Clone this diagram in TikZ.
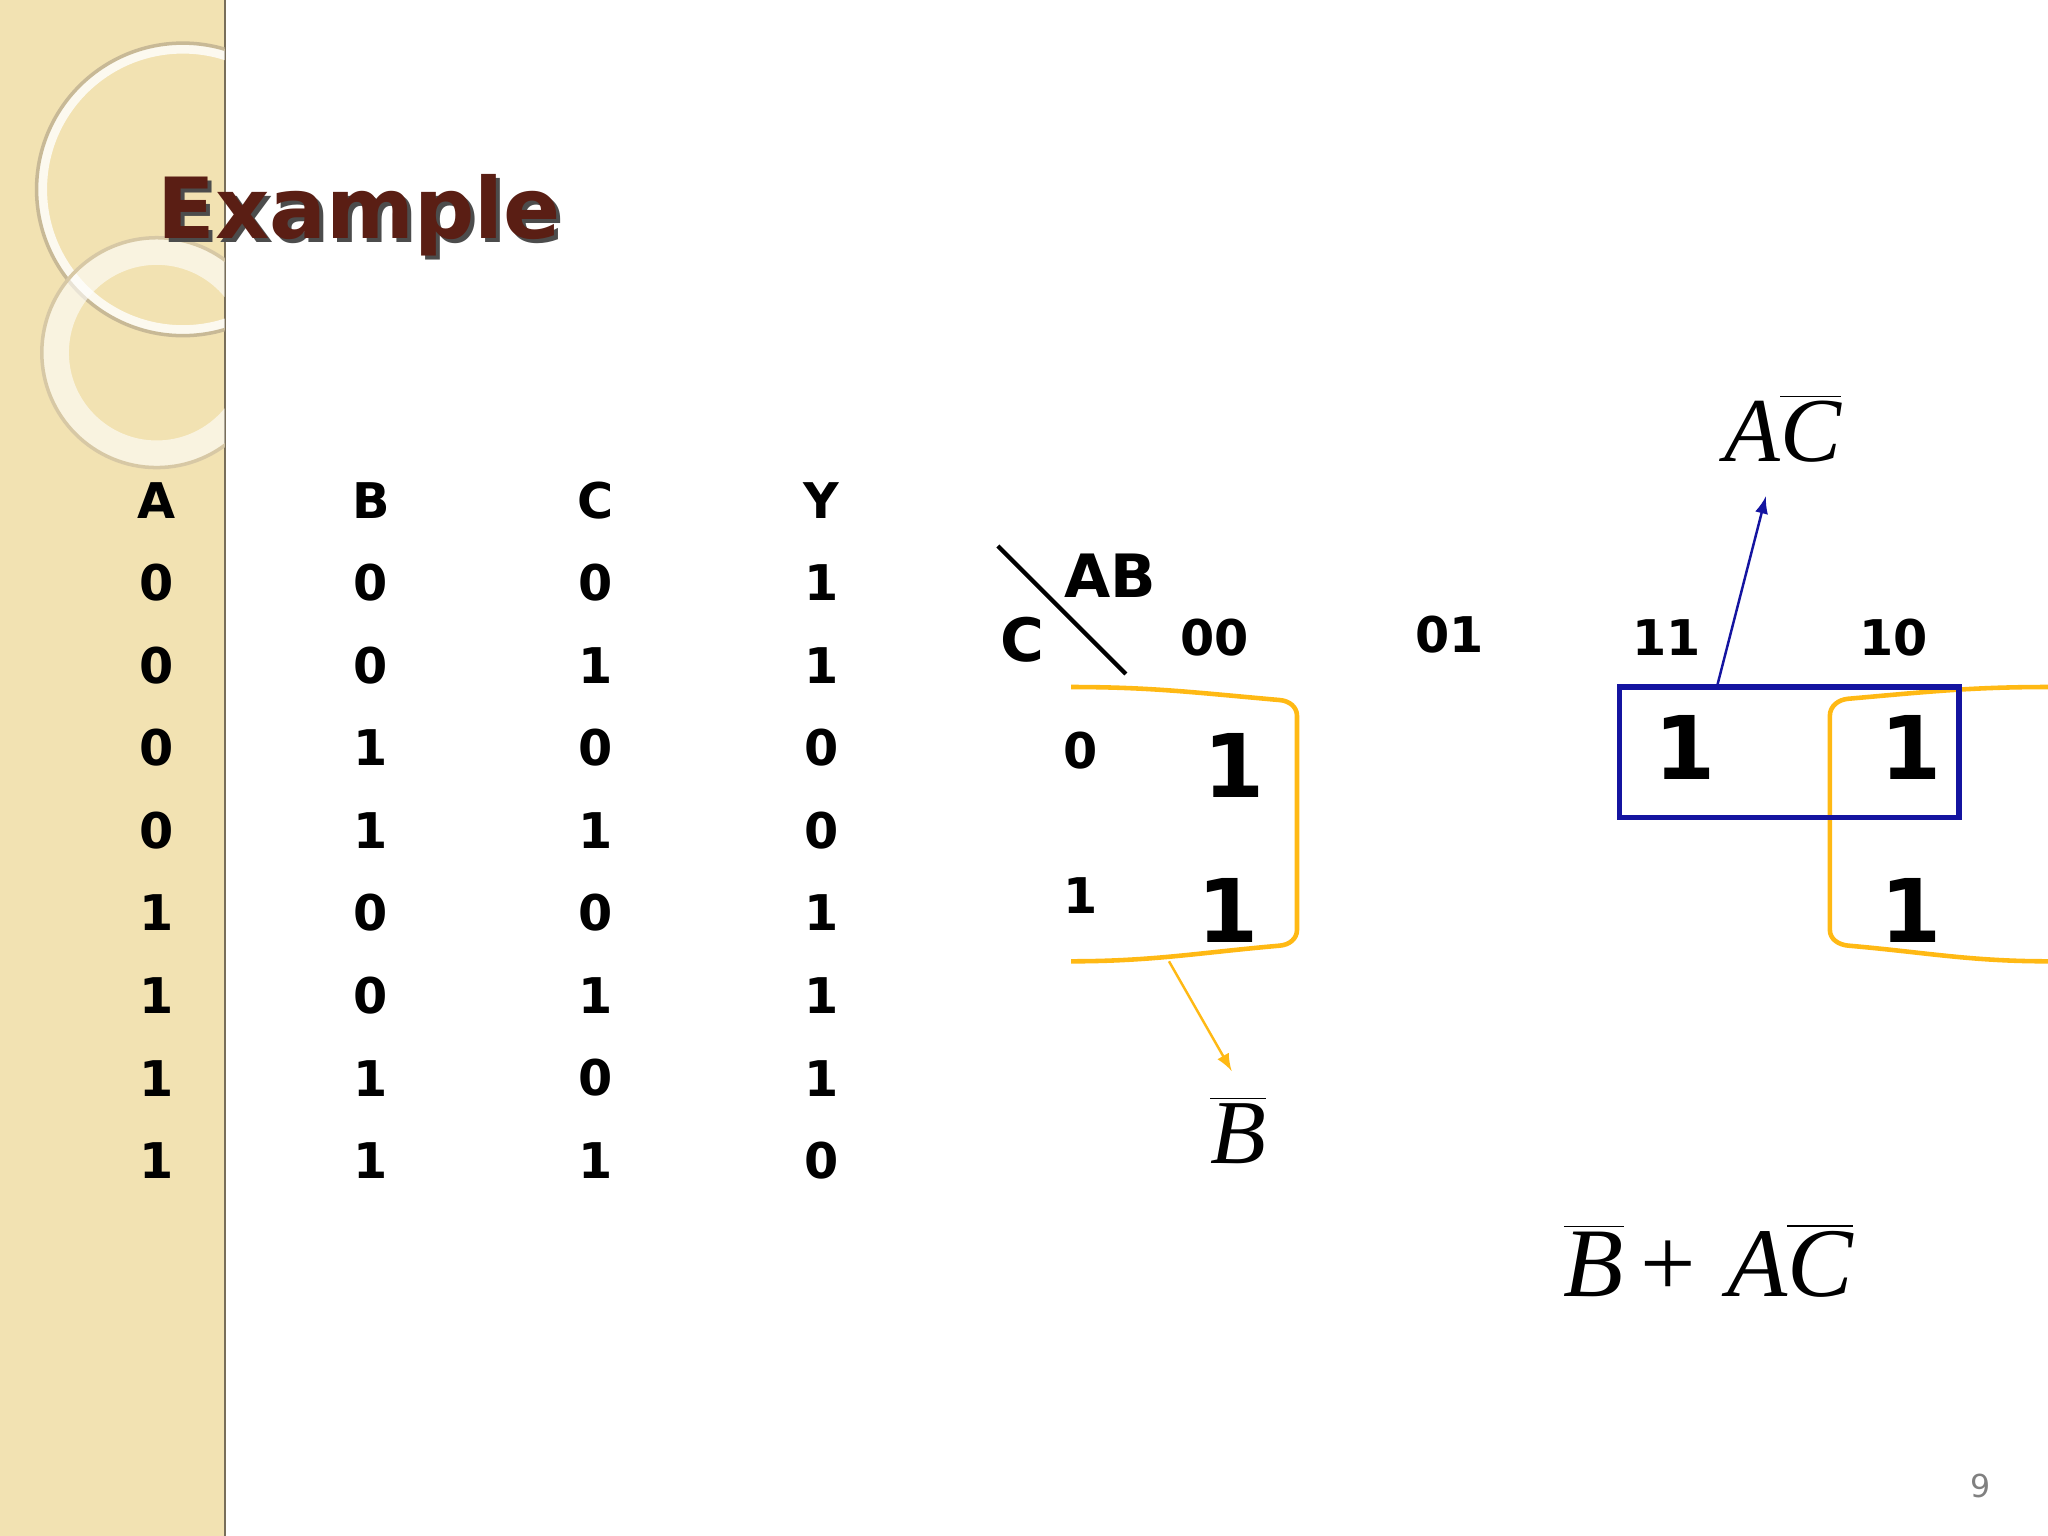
\documentclass[tikz,border=0pt]{standalone}
\usepackage{fontspec}
\setmainfont{DejaVu Sans}
\newfontfamily\tms{Liberation Serif}
\definecolor{beige}{RGB}{242,226,178}
\definecolor{barline}{RGB}{120,110,90}
\definecolor{ring1}{RGB}{200,185,150}
\definecolor{ring2}{RGB}{215,200,165}
\definecolor{brown}{RGB}{90,30,20}
\definecolor{org}{RGB}{255,185,20}
\definecolor{dblue}{RGB}{20,20,160}
\begin{document}
\begin{tikzpicture}[x=0.01306cm,y=-0.01306cm,
  tt/.style={font=\fontsize{14}{16}\selectfont\bfseries},
  big/.style={font=\fontsize{25}{28}\selectfont\bfseries},
  mth/.style={font=\fontsize{26}{30}\selectfont},
  obr/.style={draw=org,line width=1.3pt}]
\useasboundingbox (0,0) rectangle (1568,1176);
\fill[white] (0,0) rectangle (1568,1176);
\fill[beige] (0,0) rectangle (172,1176);
\draw[barline,line width=0.6pt] (172,0)--(172,1176);
\begin{scope}
\clip (0,0) rectangle (172,1176);
\draw[white,line width=3pt,opacity=0.8] (140,145) circle (108);
\draw[ring1,line width=1pt] (140,145) circle (112);
\draw[white,line width=8pt,opacity=0.6] (120,270) circle (78);
\draw[ring2,line width=1pt] (120,270) circle (88);
\end{scope}
\node[text=black!70,font=\fontsize{24}{28}\selectfont\bfseries] at (278,168) {Example};
\node (title) [text=brown,font=\fontsize{24}{28}\selectfont\bfseries] at (275,165) {Example};
\foreach \x/\h [count=\i] in {120/A,284/B,456/C,629/Y} \node[tt] (h\i) at (\x,383) {\h};
\foreach \a/\b/\c/\y [count=\r] in {0/0/0/1,0/0/1/1,0/1/0/0,0/1/1/0,1/0/0/1,1/0/1/1,1/1/0/1,1/1/1/0}{
  \pgfmathsetmacro\yy{383+63.2*\r}
  \node[tt] (a\r) at (120,\yy) {\a};
  \node[tt] (b\r) at (284,\yy) {\b};
  \node[tt] (c\r) at (456,\yy) {\c};
  \node[tt] (y\r) at (629,\yy) {\y};}
\coordinate (d1) at (764,418); \coordinate (d2) at (862,516);
\draw[line width=1.2pt] (d1)--(d2);
\node[font=\fontsize{17}{20}\selectfont\bfseries] (ab) at (850,441) {AB};
\node[font=\fontsize{17}{20}\selectfont\bfseries] (cl) at (783,490) {C};
\node[tt] (c00) at (930,488) {00};
\node[tt] (c01) at (1110,486) {01};
\node[tt] (c11) at (1276,488) {11};
\node[tt] (c10) at (1450,488) {10};
\node[tt] (r0) at (827,575) {0};
\node[tt] (r1) at (827,686) {1};
\node[big] (m1) at (945,586) {1};
\node[big] (m2) at (940,697) {1};
\node[big] (m3) at (1290,572) {1};
\node[big] (m4) at (1463,572) {1};
\node[big] (m5) at (1463,697) {1};
\draw[obr] (820,526) to[out=0,in=175] (980,536) to[out=-5,in=90] (993,548) -- (993,712) to[out=-90,in=5] (980,724) to[out=185,in=0] (820,736);
\draw[obr] (1568,526) to[out=180,in=5] (1415,535) to[out=185,in=90] (1401,548) -- (1401,712) to[out=-90,in=175] (1415,724) to[out=-5,in=180] (1568,736);
\node[draw=dblue,line width=1.6pt,minimum width=3.396cm,minimum height=1.306cm] (bx) at (1370,576) {};
\node[mth] (ac) at (1365,328) {\tms\itshape A$\overline{\mbox{\tms\itshape C}}$};
\node[mth] (bb) at (948,865) {$\overline{\mbox{\tms\itshape B}}$};
\node[font=\fontsize{28}{32}\selectfont] (eq) at (1308,965) {$\overline{\mbox{\tms\itshape B}}$\,{\tms +} {\tms\itshape A}$\overline{\mbox{\tms\itshape C}}$};
\coordinate (bs) at (1315,524);
\coordinate (be) at (1352,380);
\draw[-latex,dblue,line width=0.7pt] (bs) -- (be);
\coordinate (os) at (895,736);
\coordinate (oe) at (943,820);
\draw[-latex,org,line width=0.7pt] (os) -- (oe);
\node[text=gray,font=\fontsize{9}{10}\selectfont] (pg) at (1516,1138) {9};
\end{tikzpicture}
\end{document}
